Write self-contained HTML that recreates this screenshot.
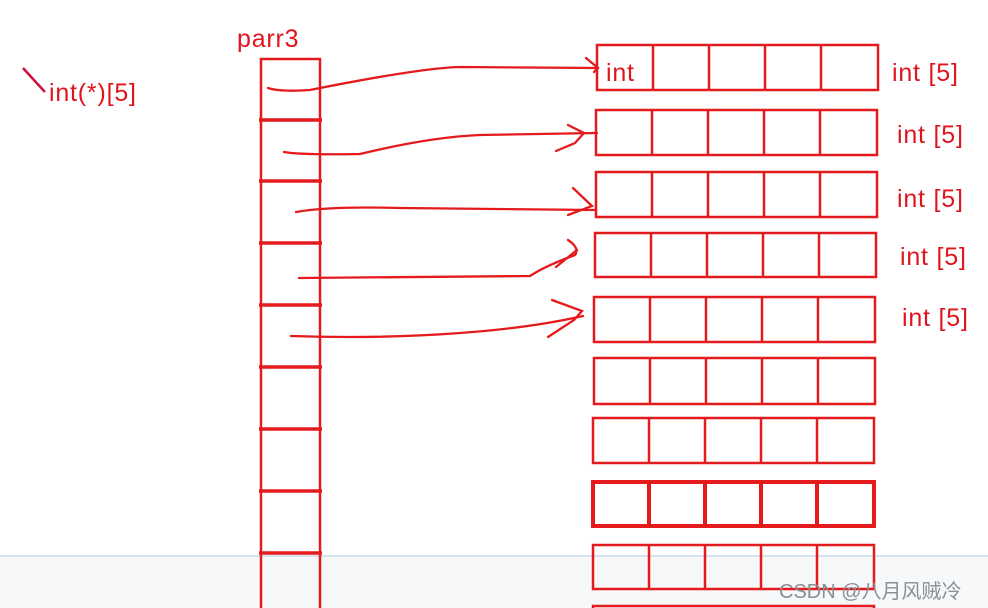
<!DOCTYPE html>
<html><head><meta charset="utf-8"><style>
html,body{margin:0;padding:0;background:#fff;}
svg{display:block;}
</style></head><body>
<svg width="988" height="608" viewBox="0 0 988 608" xmlns="http://www.w3.org/2000/svg">
<rect x="0" y="0" width="988" height="608" fill="#fff"/>
<rect x="0" y="556" width="988" height="52" fill="#f6f8f9"/>
<line x1="0" y1="556" x2="988" y2="556" stroke="#d6e4ee" stroke-width="2"/>
<g font-family="Liberation Sans, sans-serif" fill="#e0141c" font-size="25" letter-spacing="0.8">
<text x="237" y="47">parr3</text>
<text x="49" y="101">int(*)[5]</text>
<text x="606" y="81">int</text>
<text x="892" y="81">int [5]</text>
<text x="897" y="143">int [5]</text>
<text x="897" y="207">int [5]</text>
<text x="900" y="265">int [5]</text>
<text x="902" y="326">int [5]</text>
</g>
<path d="M23 68 Q32 78 45 92" stroke="#d0103a" stroke-width="2.5" fill="none"/>
<g stroke="#e41a1c" fill="none" stroke-width="2.5">
<rect x="261" y="59" width="59" height="560"/>
<path d="M259 120H322M259 181H322M259 243H322M259 305H322M259 367H322M259 429H322M259 491H322M259 553H322" stroke-width="3.5"/>
</g>
<g stroke="#e41a1c" fill="none" stroke-width="2.5">
<g transform="translate(597,45)"><rect width="281" height="45"/><path d="M56 0V45M112 0V45M168 0V45M224 0V45"/></g>
<g transform="translate(596,110)"><rect width="281" height="45"/><path d="M56 0V45M112 0V45M168 0V45M224 0V45"/></g>
<g transform="translate(596,172)"><rect width="281" height="45"/><path d="M56 0V45M112 0V45M168 0V45M224 0V45"/></g>
<g transform="translate(595,233)"><rect width="281" height="44"/><path d="M56 0V44M112 0V44M168 0V44M224 0V44"/></g>
<g transform="translate(594,297)"><rect width="281" height="45"/><path d="M56 0V45M112 0V45M168 0V45M224 0V45"/></g>
<g transform="translate(594,358)"><rect width="281" height="46"/><path d="M56 0V46M112 0V46M168 0V46M224 0V46"/></g>
<g transform="translate(593,418)"><rect width="281" height="45"/><path d="M56 0V45M112 0V45M168 0V45M224 0V45"/></g>
<g transform="translate(593,482)" stroke-width="4"><rect width="281" height="44"/><path d="M56 0V44M112 0V44M168 0V44M224 0V44"/></g>
<g transform="translate(593,545)"><rect width="281" height="44"/><path d="M56 0V44M112 0V44M168 0V44M224 0V44"/></g>
<g transform="translate(593,606)"><rect width="281" height="20"/></g>
</g>
<g stroke="#e41a1c" fill="none" stroke-width="2.3" stroke-linecap="round">
<path d="M268 88 Q280 92 310 90 Q420 68 460 67 L598 68"/>
<path d="M586 58 L598 68 L594 72"/>
<path d="M284 152 Q300 155 360 154 Q430 137 480 135 L597 133"/>
<path d="M568 125 L584 133 L575 143 L556 151"/>
<path d="M296 212 Q330 206 400 208 L595 210"/>
<path d="M573 188 L592 206 L568 215"/>
<path d="M299 278 L530 276 Q545 266 575 255 Q580 248 568 240"/>
<path d="M556 267 L577 250"/>
<path d="M291 336 Q380 339 460 333 Q530 328 583 316"/>
<path d="M552 300 L582 311 L574 320 L548 337"/>
</g>
<text x="779" y="598" font-family="Liberation Sans, 'Noto Sans CJK SC', sans-serif" font-size="20" fill="#8a8f94">CSDN @八月风贼冷</text>
</svg>
</body></html>
